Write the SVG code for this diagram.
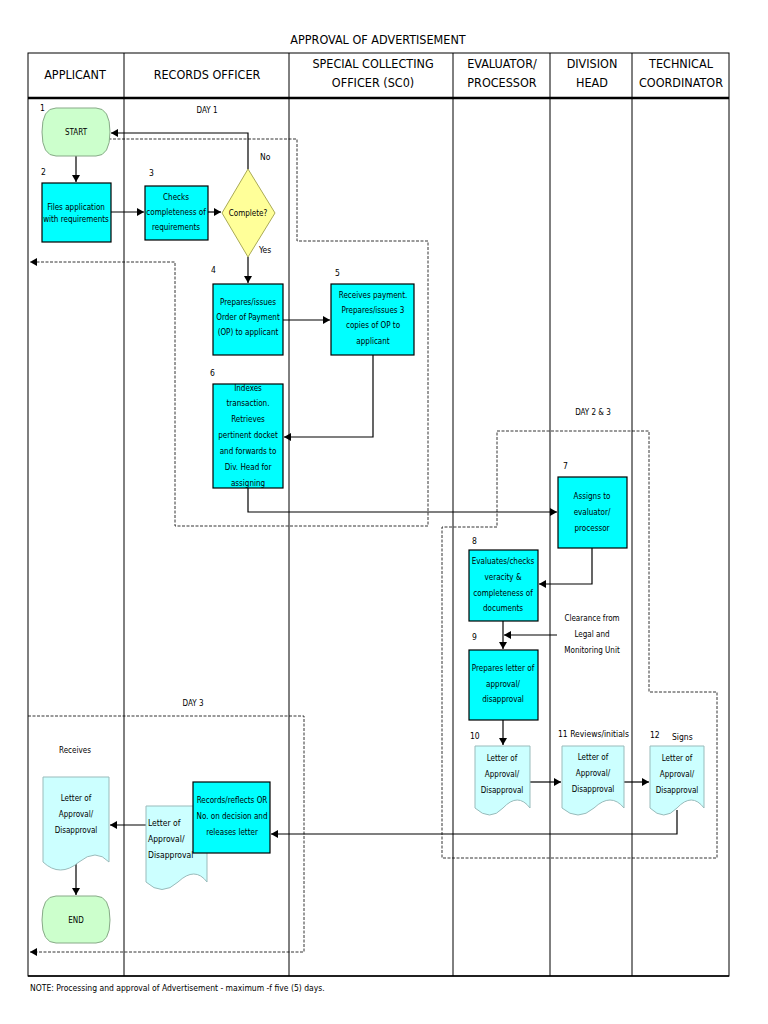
<svg xmlns="http://www.w3.org/2000/svg" width="768" height="1024" viewBox="0 0 768 1024">
<style>
text{font-family:"Liberation Sans Narrow","DejaVu Sans Condensed","Liberation Sans",sans-serif;font-stretch:condensed;fill:#000}
.h{font-size:12.5px;text-anchor:middle}
.t{font-size:8px;text-anchor:middle}
.n{font-size:8.5px}
.box{fill:#00ffff;stroke:#000;stroke-width:1.2}
.doc{fill:#ccffff;stroke:#99bbbb;stroke-width:1}
.term{fill:#ccffcc;stroke:#88aa88;stroke-width:1}
.ln{fill:none;stroke:#000;stroke-width:1}
.c{fill:none;stroke:#000;stroke-width:1.2}
.d{fill:none;stroke:#000;stroke-width:0.8;stroke-dasharray:3 1.5}
</style>
<defs>
<marker id="a" markerWidth="8" markerHeight="8" refX="7" refY="4" orient="auto" markerUnits="userSpaceOnUse"><path d="M0,0 L7,4 L0,8 z" fill="#000"/></marker>
</defs>
<rect width="768" height="1024" fill="#fff"/>
<text x="378" y="44" class="h">APPROVAL OF ADVERTISEMENT</text>
<g id="lanes">
<rect x="28" y="53" width="701" height="923" class="ln"/>
<line x1="28" y1="98" x2="729" y2="98" stroke="#000" stroke-width="2.5"/>
<line x1="124" y1="53" x2="124" y2="976" class="ln"/>
<line x1="289" y1="53" x2="289" y2="976" class="ln"/>
<line x1="453" y1="53" x2="453" y2="976" class="ln"/>
<line x1="550" y1="53" x2="550" y2="976" class="ln"/>
<line x1="632" y1="53" x2="632" y2="976" class="ln"/>
<line x1="28" y1="976" x2="729" y2="976" stroke="#000" stroke-width="1.5"/>
<text x="75" y="79" class="h">APPLICANT</text>
<text x="207" y="79" class="h">RECORDS OFFICER</text>
<text x="373" y="68" class="h">SPECIAL COLLECTING</text>
<text x="373" y="87" class="h">OFFICER (SC0)</text>
<text x="502" y="68" class="h">EVALUATOR/</text>
<text x="502" y="87" class="h">PROCESSOR</text>
<text x="592" y="68" class="h">DIVISION</text>
<text x="592" y="87" class="h">HEAD</text>
<text x="681" y="68" class="h">TECHNICAL</text>
<text x="681" y="87" class="h">COORDINATOR</text>
</g>
<g id="days">
<text x="207" y="113" class="t">DAY 1</text>
<text x="593" y="415" class="t">DAY 2 &amp; 3</text>
<text x="193" y="706" class="t">DAY 3</text>
<path d="M95,139 H297 V241 H428 V526 H175 V262 H30" class="d" marker-end="url(#a)"/>
<path d="M497,431 H649 V692 H717 V858 H442 V527 H497 Z" class="d"/>
<path d="M28,716 H304 V952 H30" class="d" marker-end="url(#a)"/>
</g>
<g id="connectors">
<path d="M76,156 V182" class="c" marker-end="url(#a)"/>
<path d="M111,212 H144" class="c" marker-end="url(#a)"/>
<path d="M208,212 H221" class="c" marker-end="url(#a)"/>
<path d="M248,169 V133 H111" class="c" marker-end="url(#a)"/>
<path d="M248,257 V283" class="c" marker-end="url(#a)"/>
<path d="M283,320 H330" class="c" marker-end="url(#a)"/>
<path d="M373,355 V437 H284" class="c" marker-end="url(#a)"/>
<path d="M248,488 V512 H557" class="c" marker-end="url(#a)"/>
<path d="M592,548 V584 H539" class="c" marker-end="url(#a)"/>
<path d="M503,621 V649" class="c" marker-end="url(#a)"/>
<path d="M557,635 H504" class="c" marker-end="url(#a)"/>
<path d="M503,720 V745" class="c" marker-end="url(#a)"/>
<path d="M530,782 H561" class="c" marker-end="url(#a)"/>
<path d="M624,782 H649" class="c" marker-end="url(#a)"/>
<path d="M677,810 V834 H271" class="c" marker-end="url(#a)"/>
<path d="M146,825 H110" class="c" marker-end="url(#a)"/>
<path d="M76,862 V895" class="c" marker-end="url(#a)"/>
</g>
<g id="n1"><text x="40" y="111" class="n">1</text><path d="M56,108 H96 Q110,108 110,132 Q110,156 96,156 H56 Q42,156 42,132 Q42,108 56,108 Z" class="term"/><text x="76" y="135" class="t">START</text></g>
<g id="n2"><text x="41" y="175" class="n">2</text><rect x="42" y="183" width="69" height="59" class="box"/><text x="76" y="210" class="t">Files application</text><text x="76" y="222" class="t">with requirements</text></g>
<g id="n3"><text x="149" y="176" class="n">3</text><rect x="145" y="186" width="63" height="54" class="box"/><text x="176" y="200" class="t">Checks</text><text x="176" y="215" class="t">completeness of</text><text x="176" y="230" class="t">requirements</text></g>
<g id="dec"><polygon points="248,169 275,213 248,257 222,213" fill="#ffff99" stroke="#aaaa55"/><text x="248" y="216" class="t">Complete?</text><text x="260" y="160" class="n">No</text><text x="259" y="253" class="n">Yes</text></g>
<g id="n4"><text x="211" y="273" class="n">4</text><rect x="213" y="284" width="70" height="71" class="box"/><text x="248" y="305" class="t">Prepares/issues</text><text x="248" y="320" class="t">Order of Payment</text><text x="248" y="335" class="t">(OP) to applicant</text></g>
<g id="n5"><text x="335" y="276" class="n">5</text><rect x="331" y="284" width="83" height="71" class="box"/><text x="373" y="298" class="t">Receives payment.</text><text x="373" y="313" class="t">Prepares/issues 3</text><text x="373" y="328" class="t">copies of OP to</text><text x="373" y="344" class="t">applicant</text></g>
<g id="n6"><text x="210" y="376" class="n">6</text><rect x="213" y="384" width="70" height="104" class="box"/><text x="248" y="391" class="t">Indexes</text><text x="248" y="406" class="t">transaction.</text><text x="248" y="422" class="t">Retrieves</text><text x="248" y="438" class="t">pertinent docket</text><text x="248" y="454" class="t">and forwards to</text><text x="248" y="470" class="t">Div. Head for</text><text x="248" y="486" class="t">assigning</text></g>
<g id="n7"><text x="563" y="469" class="n">7</text><rect x="558" y="477" width="69" height="71" class="box"/><text x="592" y="499" class="t">Assigns to</text><text x="592" y="515" class="t">evaluator/</text><text x="592" y="531" class="t">processor</text></g>
<g id="n8"><text x="472" y="544" class="n">8</text><rect x="469" y="550" width="69" height="71" class="box"/><text x="503" y="564" class="t">Evaluates/checks</text><text x="503" y="580" class="t">veracity &amp;</text><text x="503" y="596" class="t">completeness of</text><text x="503" y="611" class="t">documents</text></g>
<g id="clr"><text x="592" y="621" class="t">Clearance from</text><text x="592" y="637" class="t">Legal and</text><text x="592" y="653" class="t">Monitoring Unit</text></g>
<g id="n9"><text x="472" y="640" class="n">9</text><rect x="469" y="650" width="69" height="70" class="box"/><text x="503" y="671" class="t">Prepares letter of</text><text x="503" y="687" class="t">approval/</text><text x="503" y="702" class="t">disapproval</text></g>
<g id="n10"><text x="470" y="739" class="n">10</text><path d="M475,746 H530 V808 Q518,792 503,808 Q490,822 475,808 Z" class="doc"/><text x="502" y="761" class="t">Letter of</text><text x="502" y="777" class="t">Approval/</text><text x="502" y="793" class="t">Disapproval</text></g>
<g id="n11"><text x="558" y="737" class="n">11 Reviews/initials</text><path d="M562,746 H624 V808 Q611,792 594,808 Q578,822 562,808 Z" class="doc"/><text x="593" y="760" class="t">Letter of</text><text x="593" y="776" class="t">Approval/</text><text x="593" y="792" class="t">Disapproval</text></g>
<g id="n12"><text x="650" y="738" class="n">12</text><text x="672" y="740" class="n">Signs</text><path d="M650,746 H704 V808 Q692,792 677,808 Q664,822 650,808 Z" class="doc"/><text x="677" y="761" class="t">Letter of</text><text x="677" y="777" class="t">Approval/</text><text x="677" y="793" class="t">Disapproval</text></g>
<g id="n13"><path d="M146,806 H207 V882 Q195,866 178,882 Q162,897 146,882 Z" class="doc"/><text x="148" y="826" class="n">Letter of</text><text x="148" y="842" class="n">Approval/</text><text x="148" y="858" class="n">Disapproval</text><rect x="193" y="782" width="77" height="71" class="box"/><text x="232" y="803" class="t">Records/reflects OR</text><text x="232" y="819" class="t">No. on decision and</text><text x="232" y="835" class="t">releases letter</text></g>
<g id="n14"><text x="75" y="753" class="t">Receives</text><path d="M43,777 H109 V862 Q96,848 79,862 Q60,878 43,862 Z" class="doc"/><text x="76" y="801" class="t">Letter of</text><text x="76" y="817" class="t">Approval/</text><text x="76" y="833" class="t">Disapproval</text></g>
<g id="end"><path d="M56,896 H96 Q110,896 110,920 Q110,943 96,943 H56 Q42,943 42,920 Q42,896 56,896 Z" class="term"/><text x="76" y="923" class="t">END</text></g>
<text x="30" y="991" class="n">NOTE:  Processing and approval of Advertisement - maximum -f five (5) days.</text>
</svg>
